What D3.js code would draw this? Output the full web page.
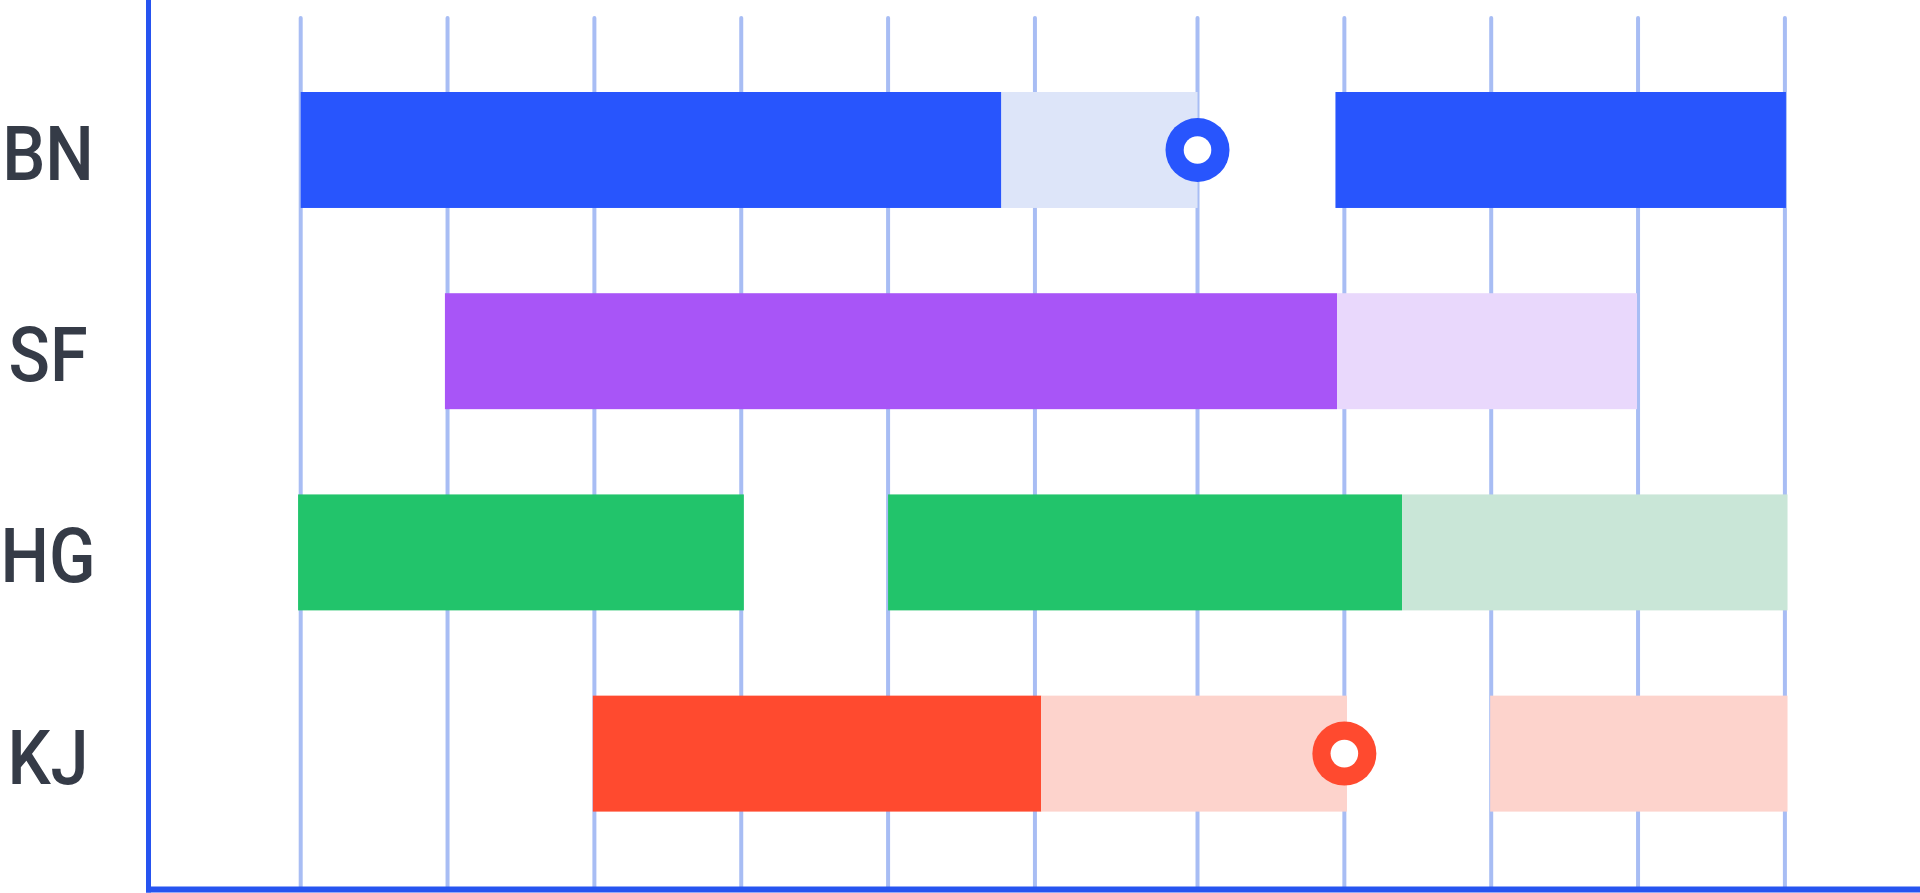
<!DOCTYPE html>
<html>
<head>
<meta charset="utf-8">
<script src="https://cdn.jsdelivr.net/npm/d3@7"></script>
<style>
  html, body { margin: 0; padding: 0; background: #fff; }
  svg { display: block; }
</style>
</head>
<body>
<svg></svg>
<script>
// rows of the timeline, top to bottom
let rows = ["BN", "SF", "HG", "KJ"];

// gridline positions (days)
let gridDays = [0, 28, 56, 84, 112, 140, 171, 199, 227, 255, 283];

// bar segments: row, start day, end day, done (solid) or planned (pale)
let segRow = ["BN", "BN", "BN", "SF", "SF", "HG", "HG", "HG", "KJ", "KJ", "KJ"];
let segStart = [0, 133.6, 197.3, 27.5, 197.6, -0.5, 112, 210, 55.7, 141.2, 226.8];
let segEnd = [133.6, 171, 283.2, 197.6, 254.8, 84.5, 210, 283.5, 141.2, 199.5, 283.5];
let segDone = [true, false, true, true, false, true, true, false, true, false, false];

// milestone markers
let markerRow = ["BN", "KJ"];
let markerDay = [171, 199];

let rowColor = { BN: "#2855fd", SF: "#a855f7", HG: "#22c46b", KJ: "#ff4a2f" };
let rowPale = { BN: "#dde5f9", SF: "#e9d8fc", HG: "#c9e6d7", KJ: "#fdd3cc" };

let width = 1920;
let height = 893;

let svg = d3.select("svg").attr("width", width).attr("height", height);

let x = d3.scaleLinear().domain([0, 283]).range([300.7, 1784.9]);
let y = d3
  .scaleBand()
  .domain(rows)
  .range([92, 811.6])
  .paddingInner(0.4237)
  .paddingOuter(0);

let axisX = 148.5;
let axisY = 889.5;

// gridlines
svg
  .append("g")
  .selectAll("line")
  .data(gridDays)
  .join("line")
  .attr("x1", (d) => x(d))
  .attr("x2", (d) => x(d))
  .attr("y1", 18)
  .attr("y2", axisY)
  .style("stroke", "#a8bdf4")
  .style("stroke-width", 4)
  .style("stroke-linecap", "round");

let segs = segRow.map((r, i) => ({
  row: r,
  start: segStart[i],
  end: segEnd[i],
  done: segDone[i],
}));

svg
  .append("g")
  .selectAll("rect")
  .data(segs)
  .join("rect")
  .attr("x", (d) => x(d.start))
  .attr("width", (d) => x(d.end) - x(d.start))
  .attr("y", (d) => y(d.row))
  .attr("height", y.bandwidth())
  .style("fill", (d) => (d.done ? rowColor[d.row] : rowPale[d.row]));

let markers = markerRow.map((r, i) => ({ row: r, day: markerDay[i] }));

let mk = svg
  .append("g")
  .selectAll("g")
  .data(markers)
  .join("g")
  .attr("transform", (d) => `translate(${x(d.day)},${y(d.row) + y.bandwidth() / 2})`);

mk.append("circle")
  .attr("r", 32)
  .style("fill", (d) => rowColor[d.row]);

mk.append("circle")
  .attr("r", 13.8)
  .style("fill", "#fff");

// row labels
svg
  .append("g")
  .selectAll("text")
  .data(rows)
  .join("text")
  .attr("transform", (d) => `translate(48,${y(d) + y.bandwidth() / 2 + 30}) scale(0.9,1)`)
  .attr("text-anchor", "middle")
  .style("font-family", "Roboto, sans-serif")
  .style("font-weight", 500)
  .style("font-size", "76px")
  .style("fill", "#353b47")
  .text((d) => d);

// axes
svg
  .append("line")
  .attr("x1", axisX)
  .attr("x2", axisX)
  .attr("y1", 0)
  .attr("y2", axisY + 3)
  .style("stroke", "#2654f0")
  .style("stroke-width", 5);

svg
  .append("line")
  .attr("x1", axisX - 2.5)
  .attr("x2", width)
  .attr("y1", axisY)
  .attr("y2", axisY)
  .style("stroke", "#2654f0")
  .style("stroke-width", 6);
</script>
</body>
</html>
